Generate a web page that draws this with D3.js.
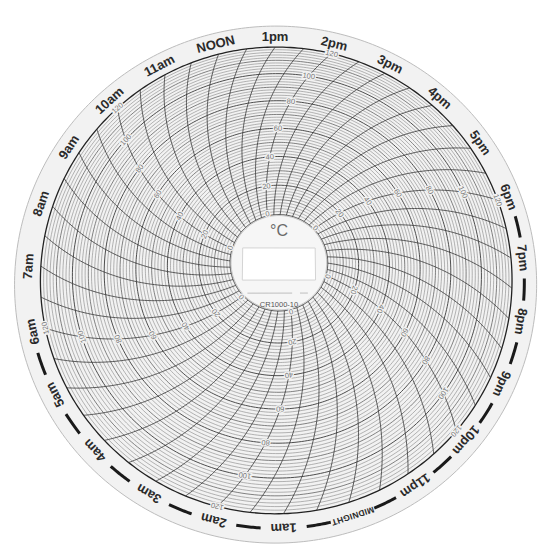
<!DOCTYPE html>
<html>
<head>
<meta charset="utf-8">
<script src="https://cdn.jsdelivr.net/npm/d3@7"></script>
<style>
  html, body { margin: 0; padding: 0; background: #fff; }
  svg { display: block; }
</style>
</head>
<body>
<div id="chart"></div>
<script>
// hour labels round the rim, starting at noon and going clockwise
const hourLabels = ["NOON", "1pm", "2pm", "3pm", "4pm", "5pm", "6pm", "7pm", "8pm", "9pm", "10pm", "11pm",
                    "MIDNIGHT", "1am", "2am", "3am", "4am", "5am", "6am", "7am", "8am", "9am", "10am", "11am"];
// hours (after noon) whose rim gap carries a black night bar
const nightHours = [6, 7, 8, 9, 10, 11, 12, 13, 14, 15, 16, 17];
// time lines that carry the temperature numbers
const labelledHours = [2, 6, 10, 14, 18, 22];
// temperature scale
const tempLabels = [0, 20, 40, 60, 80, 100, 120];
const tempMin = 0, tempMax = 120, tempStep = 2;
const timeStep = 0.5; // a time line every half hour
const unitLabel = "°C";
const chartCode = "CR1000-10";

let vis = {};
vis.width = 550;
vis.height = 550;

// photo is taken a little off square, so every point goes through a small perspective
const CX = 279, CY = 262, SX = 260, SY = 256.5, K = 0.0874, M = -0.013;
function projUV(u, v) {
    let w = 1 - K * v - M * u;
    return [CX + SX * u / w, CY + SY * v / w];
}
function proj(r, deg) {
    let a = deg * Math.PI / 180;
    return projUV(r * Math.sin(a), -r * Math.cos(a));
}
function tangent(r, deg) {
    let p1 = proj(r, deg - 0.5), p2 = proj(r, deg + 0.5);
    return Math.atan2(p2[1] - p1[1], p2[0] - p1[0]) * 180 / Math.PI;
}

const RHO0 = 0.188, RHO1 = 0.904, PEN = 1.6;
vis.r = d3.scaleLinear().domain([tempMin, tempMax]).range([RHO0, RHO1]);
vis.t = d3.scaleLinear().domain([0, 24]).range([-16, 344]);

// pen arc: angle of the time line at radius rho
function lineAngle(hour, rho) {
    let off = Math.asin(RHO1 / PEN) - Math.asin(rho / PEN);
    return vis.t(hour) - off * 180 / Math.PI;
}

vis.svg = d3.select("#chart").append("svg")
    .attr("width", vis.width)
    .attr("height", vis.height);

vis.line = d3.line();
vis.closed = d3.line().curve(d3.curveLinearClosed);

function ring(r, n) {
    return d3.range(n).map(i => proj(r, i * 360 / n));
}

// paper disc
vis.svg.append("path")
    .attr("d", vis.closed(ring(1, 360)))
    .style("fill", "#f2f2f2")
    .style("stroke", "#bdbdbd")
    .style("stroke-width", 1);

// concentric temperature circles
let temps = d3.range(tempMin, tempMax + 0.01, tempStep);
vis.svg.append("g").selectAll("path")
    .data(temps)
    .enter()
    .append("path")
    .attr("d", d => vis.closed(ring(vis.r(d), 360)))
    .style("fill", "none")
    .style("stroke", d => d == tempMax ? "#222" : d % 20 == 0 ? "#3a3a3a" : d % 10 == 0 ? "#5a5a5a" : "#858585")
    .style("stroke-width", d => d == tempMax ? 1.3 : d % 20 == 0 ? 0.9 : d % 10 == 0 ? 0.75 : 0.6);

// curved time lines
let hours = d3.range(0, 24, timeStep);
vis.svg.append("g").selectAll("path")
    .data(hours)
    .enter()
    .append("path")
    .attr("d", h => vis.line(d3.range(tempMin, tempMax + 0.01, 1).map(v => proj(vis.r(v), lineAngle(h, vis.r(v))))))
    .style("fill", "none")
    .style("stroke", "#333")
    .style("stroke-width", 0.8);

// hub
vis.svg.append("path")
    .attr("d", vis.closed(ring(RHO0 - 0.004, 120)))
    .style("fill", "#f6f6f6")
    .style("stroke", "#999")
    .style("stroke-width", 0.5);

// temperature numbers along some time lines
let tl = [];
labelledHours.forEach(h => tempLabels.forEach(v => tl.push({h: h, v: v})));
vis.svg.append("g").selectAll("text")
    .data(tl)
    .enter()
    .append("text")
    .attr("transform", d => {
        let rho = vis.r(d.v) + (d.v == 0 ? 0.008 : 0);
        let a = lineAngle(d.h, rho);
        let p = proj(rho, a);
        return "translate(" + p[0] + "," + p[1] + ") rotate(" + tangent(rho, a) + ")";
    })
    .attr("text-anchor", "middle")
    .attr("dominant-baseline", "central")
    .style("font-family", "Liberation Sans, Arial, sans-serif")
    .style("font-size", "7.5px")
    .style("fill", "#777")
    .style("stroke", "#f2f2f2")
    .style("stroke-width", 2.5)
    .style("paint-order", "stroke")
    .text(d => d.v);

// night bars on the rim
vis.svg.append("g").selectAll("path")
    .data(nightHours)
    .enter()
    .append("path")
    .attr("d", h => {
        let c = vis.t(h) + 7.5;
        return vis.line(d3.range(c - 2.6, c + 2.61, 0.4).map(a => proj(0.952, a)));
    })
    .style("fill", "none")
    .style("stroke", "#1a1a1a")
    .style("stroke-width", 3);

// hour labels
vis.svg.append("g").selectAll("text")
    .data(hourLabels)
    .enter()
    .append("text")
    .attr("transform", (d, i) => {
        let a = vis.t(i);
        let p = proj(0.952, a);
        return "translate(" + p[0] + "," + p[1] + ") rotate(" + tangent(0.952, a) + ")";
    })
    .attr("text-anchor", "middle")
    .attr("dominant-baseline", "central")
    .style("font-family", "Liberation Sans, Arial, sans-serif")
    .style("font-weight", "bold")
    .style("font-size", d => d.length > 4 ? "8.5px" : "13px")
    .style("letter-spacing", d => d.length > 4 ? "0.3px" : "0px")
    .style("fill", "#2a2a2a")
    .text(d => d);

// centre hole and print
let hole = [projUV(-0.14, -0.055), projUV(0.14, -0.055), projUV(0.14, 0.07), projUV(-0.14, 0.07)];
vis.svg.append("path")
    .attr("d", vis.closed(hole))
    .style("fill", "#ffffff")
    .style("stroke", "#d4d4d4")
    .style("stroke-width", 1);

let cp = projUV(0, -0.125);
vis.svg.append("text")
    .attr("x", cp[0]).attr("y", cp[1])
    .attr("text-anchor", "middle")
    .attr("dominant-baseline", "central")
    .style("font-family", "Liberation Sans, Arial, sans-serif")
    .style("font-size", "16px")
    .style("fill", "#6a6a6a")
    .text(unitLabel);

[[-0.12, 0.05], [0.08, 0.11]].forEach(s => {
    vis.svg.append("path")
        .attr("d", vis.line([projUV(s[0], 0.12), projUV(s[1], 0.12)]))
        .style("stroke", "#999")
        .style("stroke-width", 0.6);
});

let kp = projUV(0, 0.165);
vis.svg.append("text")
    .attr("x", kp[0]).attr("y", kp[1])
    .attr("text-anchor", "middle")
    .attr("dominant-baseline", "central")
    .style("font-family", "Liberation Sans, Arial, sans-serif")
    .style("font-size", "7.5px")
    .style("fill", "#555")
    .text(chartCode);
</script>
</body>
</html>
